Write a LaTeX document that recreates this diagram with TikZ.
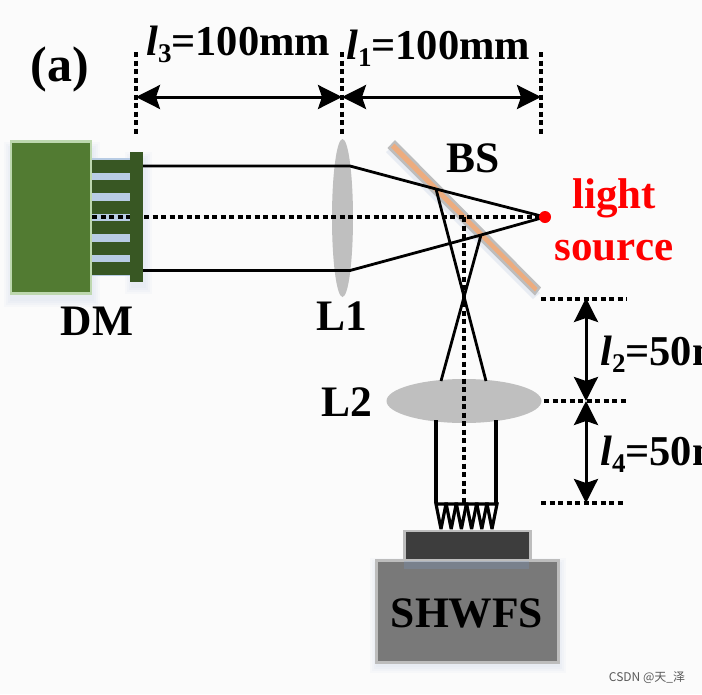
\documentclass[tikz,border=0pt]{standalone}
\usepackage{fontspec}
\setmainfont{Liberation Serif}
\newfontfamily\cjkmark{Noto Sans CJK SC}
\usetikzlibrary{arrows.meta,shapes.geometric}
\definecolor{bgc}{HTML}{FBFBFB}
\definecolor{dmgreen}{HTML}{527B32}
\definecolor{dmedge}{HTML}{BDD7AE}
\definecolor{dmdark}{HTML}{385723}
\definecolor{gapblue}{HTML}{B8CCE4}
\definecolor{bsfill}{HTML}{EDAC7E}
\definecolor{edgegray}{HTML}{BDBDBD}
\definecolor{lensgray}{HTML}{BFBFBF}
\definecolor{shadowc}{HTML}{7C9CCB}
\tikzset{
  ray/.style={line width=2.8pt,black,line join=round},
  vray/.style={line width=3.4pt,black},
  axis/.style={line width=3.3pt,black,dash pattern=on 5pt off 3.5pt},
  dim/.style={line width=3pt,black,{Stealth[length=24pt,width=24pt,inset=4pt]}-{Stealth[length=24pt,width=24pt,inset=4pt]}},
  softshade/.style={fill=shadowc,opacity=.035,draw=none},
  lab/.style={font=\bfseries\fontsize{43.5}{44}\selectfont,inner sep=0pt,text=black},
  dimlab/.style={font=\bfseries\fontsize{42.5}{43}\selectfont,inner sep=0pt,text=black,anchor=west},
  redlab/.style={font=\bfseries\fontsize{43}{43}\selectfont,inner sep=0pt,text=red},
  finger/.style={fill=dmdark,draw=none},
  lenslet/.style={fill=white,draw=black,line width=3.2pt,line join=miter,miter limit=3},
  markstyle/.style={font=\cjkmark\fontsize{12}{12}\selectfont,inner sep=0pt,text=black!65}
}
\newcommand{\subnum}[1]{\raisebox{-7pt}{\fontsize{27}{27}\selectfont #1}}
\begin{document}
\begin{tikzpicture}[x=1pt,y=-1pt]
\useasboundingbox (0,0) rectangle (702,694);
\clip (0,0) rectangle (702,694);
\fill[bgc] (0,0) rectangle (702,694);
% soft shadows
\foreach \e in {2,4,6,8}{
  \fill[softshade] (12-\e,150-\e) rectangle (92+\e,299+\e);
  \fill[softshade] (378-\e,566-\e) rectangle (558+\e,665+\e);
  \fill[softshade] (133-\e,160-\e) rectangle (144+\e,286+\e);
}
% DM
\fill[gapblue] (89,158) rectangle (131,276);
\foreach \yy in {166,186.5,207,227.5,248,268.5}
  \fill[finger] (89,\yy-6.5) rectangle (131,\yy+6.5);
\fill[gapblue] (89,213.500) rectangle (131,221);
\node[fill=dmgreen,draw=dmedge,line width=2.5pt,minimum width=80pt,minimum height=152pt,inner sep=0pt,anchor=north west] (dmbox) at (9.500,140) {};
\node[fill=dmdark,draw=none,minimum width=13pt,minimum height=130pt,inner sep=0pt,anchor=north west] (dmbar) at (130,152) {};
\node[lab] (dmt) at (97,321) {DM};
% Lenses
\node[fill=lensgray,draw=none,ellipse,minimum width=21pt,minimum height=158pt,inner sep=0pt] (L1) at (342.500,218) {};
\node[fill=lensgray,draw=none,ellipse,minimum width=155pt,minimum height=44pt,inner sep=0pt] (L2) at (464,401) {};
% BS
\fill[softshade,opacity=.15] (386,152) -- (533,299) -- (540,293) -- (393,146) -- cycle;
\fill[edgegray] (395,140) -- (387.500,148) -- (535,295.500) -- (541,287.500) -- cycle;
\fill[bsfill] (394.500,143.500) -- (391,147.500) -- (535,291.500) -- (537.500,288) -- cycle;
% points
\coordinate (S) at (545,217);
\coordinate (A) at (436,189);
\coordinate (B) at (481,235);
\coordinate (P) at (441,381);
\coordinate (Q) at (486,381);
\coordinate (M) at (464,217);
% rays
\draw[ray] (143,166) -- (350,166) -- (A) -- (S) -- (B) -- (350,270.500) -- (143,270.500);
\draw[ray] (A) -- (Q);
\draw[ray] (B) -- (P);
\draw[vray] (436,420) -- (436,503) (496,420) -- (496,503);
\draw[axis] (92,217) -- (130,217);
\draw[axis] (144,217) -- (S);
\draw[axis] (M) -- (464,503);
\fill[red] (S) circle (6pt);
% detector
\node[fill=gray!95!black,draw=edgegray,line width=2.5pt,minimum width=182pt,minimum height=102pt,inner sep=0pt,anchor=north west] (shw) at (375,559) {};
\node[fill=black!76,draw=edgegray,line width=2.5pt,minimum width=126pt,minimum height=29pt,inner sep=0pt,anchor=north west] (ccd) at (403,529.500) {};
\fill[shadowc,opacity=.25] (404,561) rectangle (529,569);
\node[lab] (sht) at (467,613) {SHWFS};
% lenslets
\foreach \xx in {441,451.2,461.4,471.6,481.8,492}
  \draw[lenslet] (\xx-5,504) -- (\xx+5,504) -- (\xx,529) -- cycle;
% Dimension guides
\coordinate (d1) at (136,97);
\coordinate (d2) at (342,97);
\coordinate (d3) at (541,97);
\draw[axis] (136,52) -- (136,134);
\draw[axis] (342,52) -- (342,134);
\draw[axis] (541,52) -- (541,134);
\draw[dim] (d1) -- (d2);
\draw[dim] (d2) -- (d3);
\coordinate (v1) at (586,298);
\coordinate (v2) at (586,401);
\coordinate (v3) at (586,503);
\draw[axis] (541,299) -- (627,299);
\draw[axis] (544,401) -- (627,401);
\draw[axis] (541,503) -- (625,503);
\draw[dim] (v1) -- (v2);
\draw[dim] (v2) -- (v3);
% Labels
\node[lab,font=\bfseries\fontsize{50}{50}\selectfont] (a) at (60,69) {(a)};
\node[dimlab] (l3) at (146,44) {\textit{l}\subnum{3}=100mm};
\node[dimlab] (l1) at (346,48) {\textit{l}\subnum{1}=100mm};
\node[dimlab] (l2) at (600,354) {\textit{l}\subnum{2}=50mm};
\node[dimlab] (l4) at (600,454) {\textit{l}\subnum{4}=50mm};
\node[lab] (bs) at (473,158) {BS};
\node[lab] (l1t) at (342,316) {L1};
\node[lab] (l2t) at (347,402) {L2};
\node[redlab] (ls1) at (614,198) {light};
\node[redlab] (ls2) at (614,251) {source};
\node[markstyle] (wm) at (647,678) {CSDN @天\_泽};
\end{tikzpicture}
\end{document}
